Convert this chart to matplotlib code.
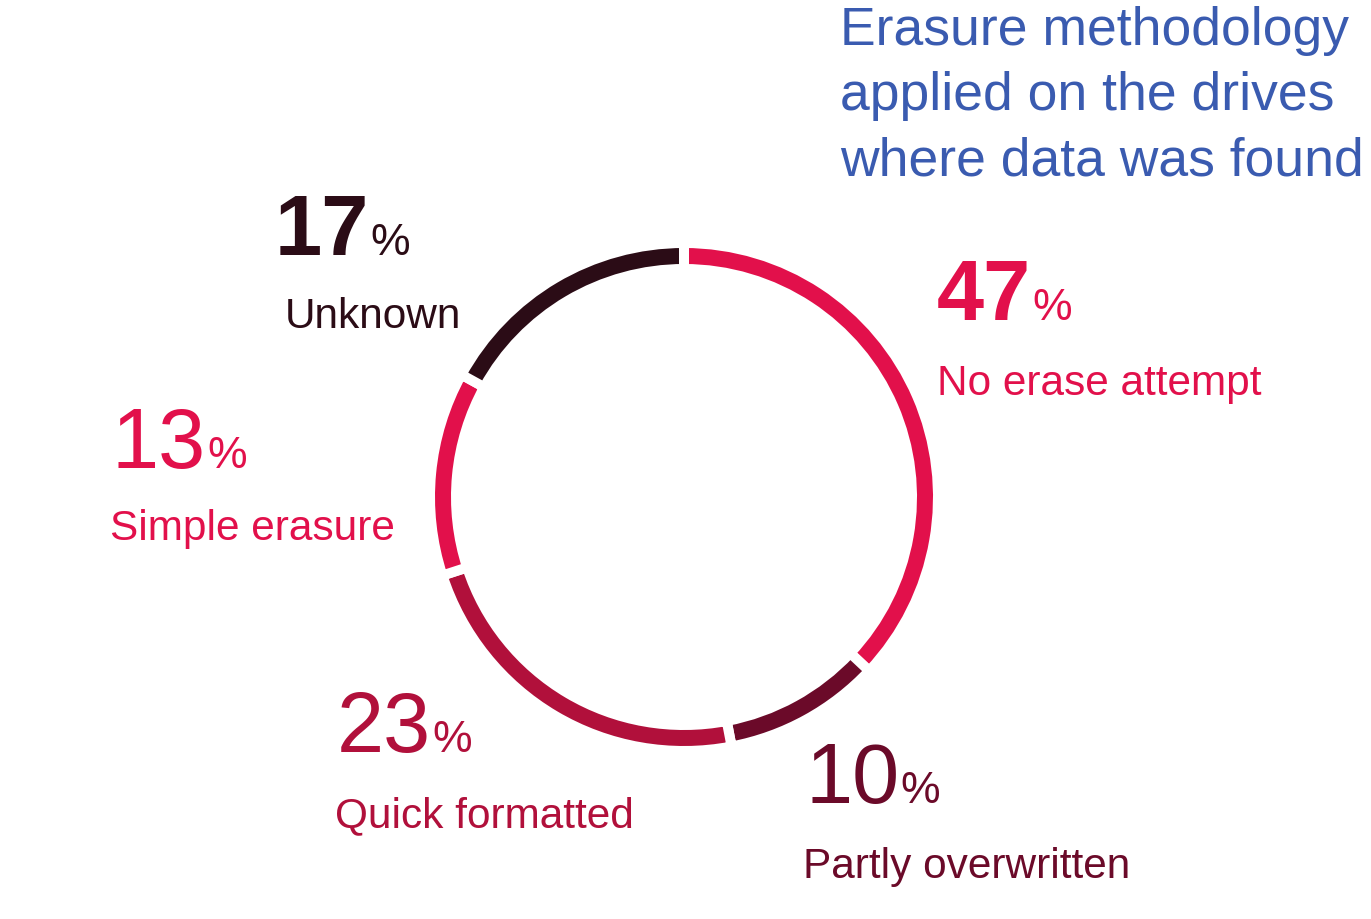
import matplotlib
matplotlib.use("Agg")
import matplotlib.pyplot as plt
import matplotlib.transforms as mtransforms

# Data ---------------------------------------------------------------------
labels = ["No erase attempt", "Partly overwritten", "Quick formatted",
          "Simple erasure", "Unknown"]
printed_pct = [47, 10, 23, 13, 17]
# ring arcs as measured on the picture (the "No erase" arc spans ~37%)
arc_share = [37, 10, 23, 13, 17]
colors = ["#e2104b", "#6b0a29", "#b1103b", "#e2104b", "#2b0c16"]
title_lines = ["Erasure methodology", "applied on the drives",
               "where data was found"]

# Layout (pixels) ----------------------------------------------------------
W, H = 1371, 920
cx, cy = 684, 498
r_out, ring_w, gap = 249, 16, 10
label_pos = {
    "No erase attempt": (937, 320, 395),
    "Partly overwritten": (805, 803, 878),
    "Quick formatted": (337, 752, 827),
    "Simple erasure": (112, 468, 540),
    "Unknown": (275, 255, 328),
}
num_bold = {"No erase attempt": "bold", "Unknown": "bold"}
label_dx = {"Unknown": 10, "Partly overwritten": -2, "Quick formatted": -2,
            "Simple erasure": -2}

plt.rcParams["font.family"] = ["Liberation Sans", "DejaVu Sans"]
fig = plt.figure(figsize=(W / 100, H / 100), dpi=100)
ax0 = fig.add_axes([0, 0, 1, 1])
ax0.set_xlim(0, W)
ax0.set_ylim(H, 0)
ax0.axis("off")

# Ring
R = r_out + gap / 2
ax = fig.add_axes([(cx - R) / W, (H - cy - R) / H, 2 * R / W, 2 * R / H])
ax.pie(arc_share, colors=colors, startangle=90, counterclock=False,
       radius=1,
       wedgeprops=dict(width=(ring_w + gap) / R, edgecolor="white",
                       linewidth=gap * 0.72))
ax.set_xlim(-1, 1)
ax.set_ylim(-1, 1)
ax.set_aspect("auto")
ax.axis("off")

# Title
for i, line in enumerate(title_lines):
    ax0.text(840, 45 + i * 65, line, color="#3a5bb0", fontsize=38.5,
             ha="left", va="baseline")

# Percent labels
fig.canvas.draw()
renderer = fig.canvas.get_renderer()
blend = mtransforms.blended_transform_factory(mtransforms.IdentityTransform(),
                                              ax0.transData)
for lab, pct, col in zip(labels, printed_pct, colors):
    x, y_num, y_lab = label_pos[lab]
    t = ax0.text(x, y_num, str(pct), color=col, fontsize=61,
                 fontweight=num_bold.get(lab, "normal"),
                 ha="left", va="baseline")
    bb = t.get_window_extent(renderer)
    ax0.text(bb.x1 + 1, y_num, "%", color=col, fontsize=32,
             ha="left", va="baseline", transform=blend)
    ax0.text(x + label_dx.get(lab, 0), y_lab, lab, color=col, fontsize=30.5,
             ha="left", va="baseline")

fig.savefig("out.png", dpi=100, facecolor="white")
